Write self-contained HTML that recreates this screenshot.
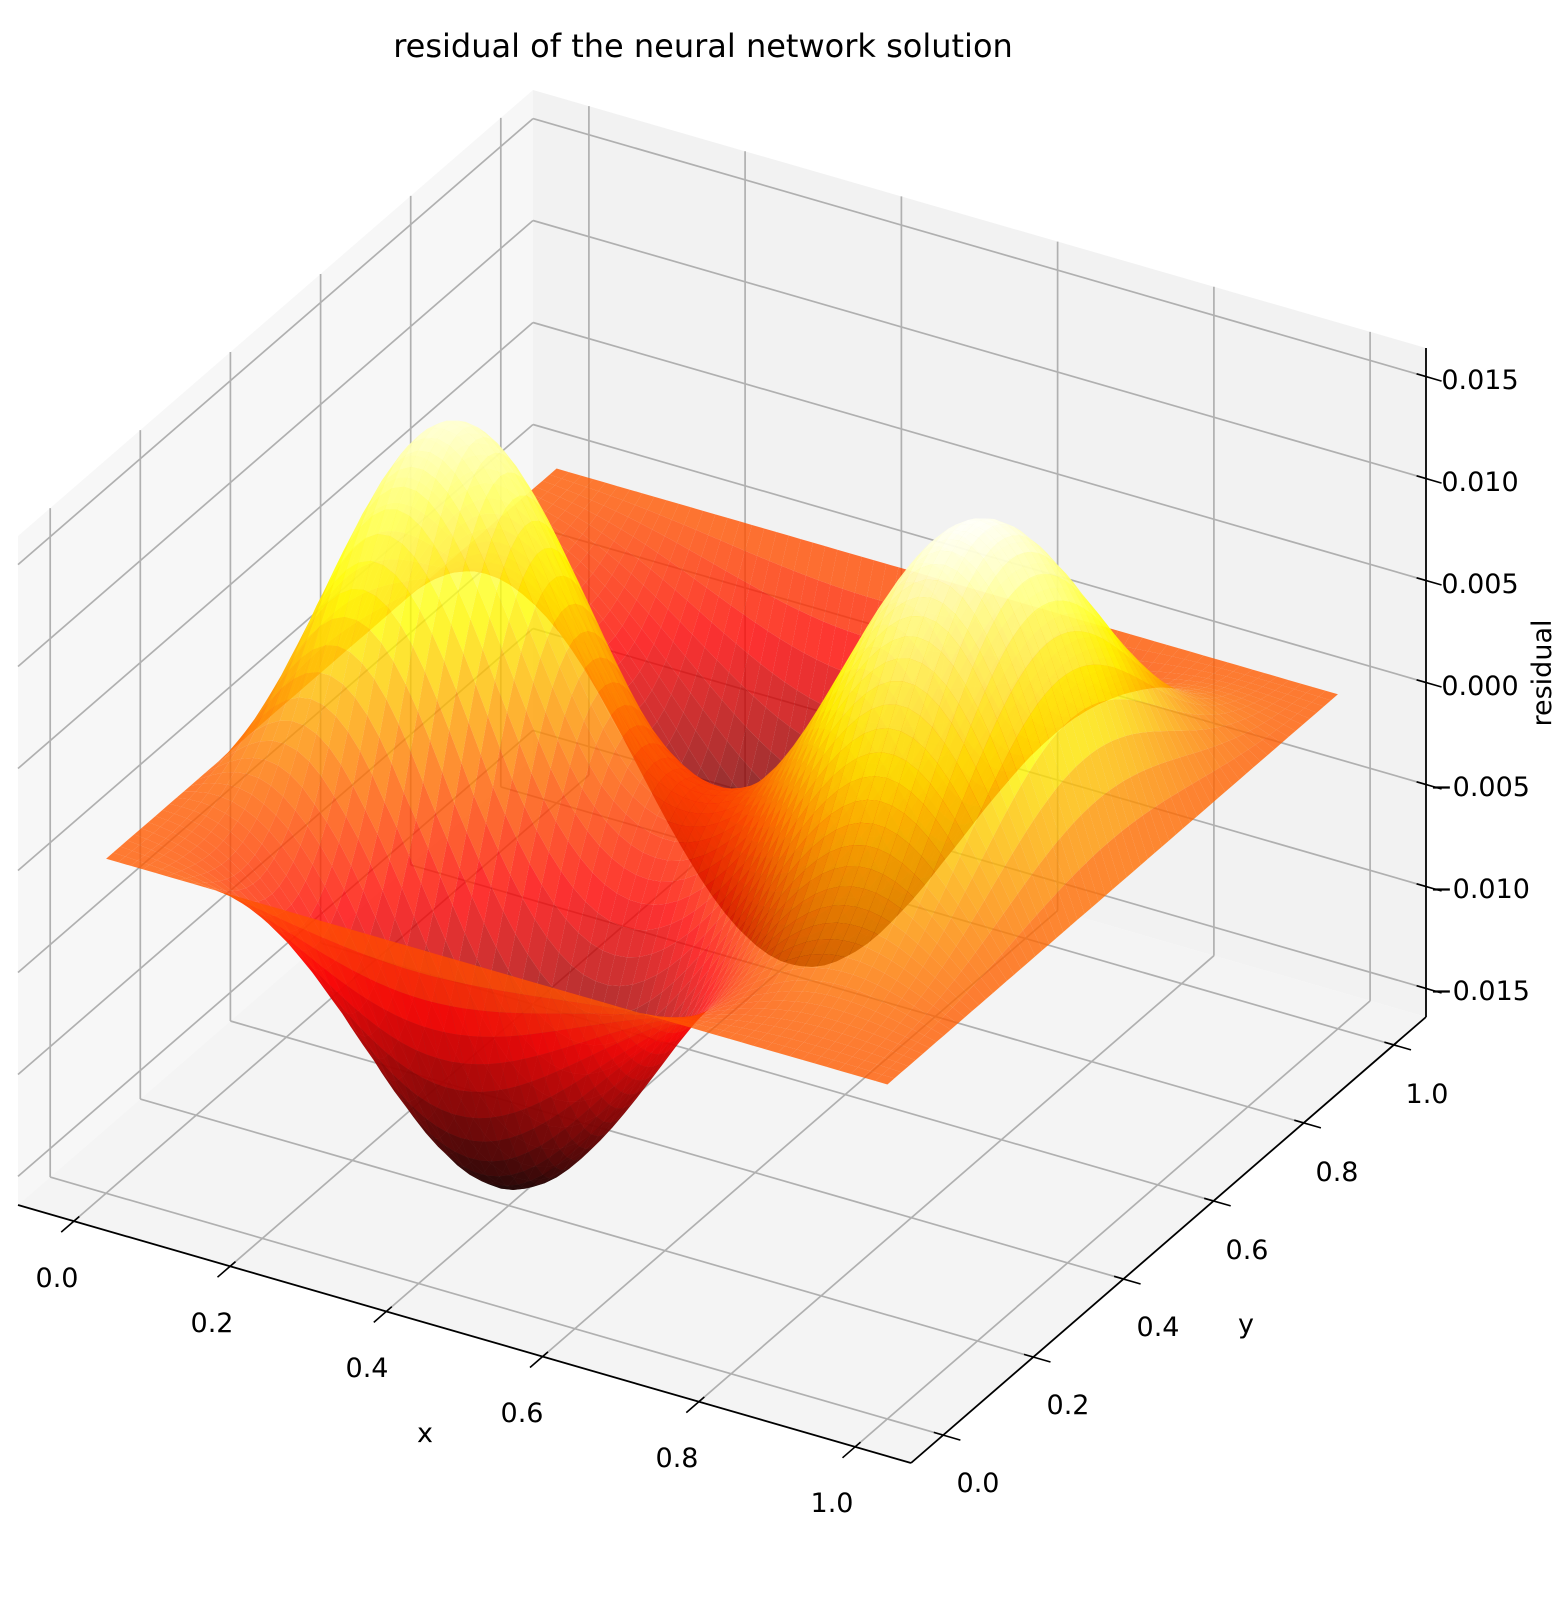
<!DOCTYPE html>
<html><head><meta charset="utf-8">
<style>
html,body{margin:0;padding:0;background:#fff;}
svg{display:block;font-family:"DejaVu Sans","Liberation Sans",sans-serif;}
</style></head>
<body>
<svg id="s" width="1563" height="1599" viewBox="0 0 1563 1599" xmlns="http://www.w3.org/2000/svg"></svg>
<script>
(function(){
var xmin=-0.0715,xmax=1.0715,ymin=-0.0715,ymax=1.0715,zmin=-0.0164,zmax=0.0164;
var F00=[18,1205],F10=[911,1463],F11=[1426,1017],F01=[533,759];
var ZH=669;
function P(x,y,z){
  var u=(x-xmin)/(xmax-xmin),v=(y-ymin)/(ymax-ymin);
  var sx=F00[0]*(1-u)*(1-v)+F10[0]*u*(1-v)+F11[0]*u*v+F01[0]*(1-u)*v;
  var sy=F00[1]*(1-u)*(1-v)+F10[1]*u*(1-v)+F11[1]*u*v+F01[1]*(1-u)*v;
  sy-=(z-zmin)/(zmax-zmin)*ZH;
  return [sx,sy];
}
function depth(x,y,z){
  var u=(x-xmin)/(xmax-xmin),v=(y-ymin)/(ymax-ymin),w=(z-zmin)/(zmax-zmin)*0.75;
  return 0.433*u-0.75*v+0.5*w;
}
var out=[];
function poly(pts,fill,extra){
  var s=pts.map(function(p){return p[0].toFixed(1)+","+p[1].toFixed(1);}).join(" ");
  out.push('<polygon points="'+s+'" fill="'+fill+'" '+(extra||'')+'/>');
}
function line(a,b,col,w){
  out.push('<line x1="'+a[0].toFixed(1)+'" y1="'+a[1].toFixed(1)+'" x2="'+b[0].toFixed(1)+'" y2="'+b[1].toFixed(1)+'" stroke="'+col+'" stroke-width="'+w+'"/>');
}
function text(x,y,t,size,anchor,extra){
  out.push('<text x="'+x+'" y="'+y+'" font-size="'+size+'" text-anchor="'+(anchor||"middle")+'" fill="#000" '+(extra||'')+'>'+t+'</text>');
}
poly([P(xmin,ymin,zmin),P(xmin,ymax,zmin),P(xmin,ymax,zmax),P(xmin,ymin,zmax)],"#f7f7f7");
poly([P(xmin,ymax,zmin),P(xmax,ymax,zmin),P(xmax,ymax,zmax),P(xmin,ymax,zmax)],"#f2f2f2");
poly([P(xmin,ymin,zmin),P(xmax,ymin,zmin),P(xmax,ymax,zmin),P(xmin,ymax,zmin)],"#f4f4f4");
var gc="#b0b0b0",gw=1.7;
var ticks=[0,0.2,0.4,0.6,0.8,1.0];
ticks.forEach(function(t){
  line(P(t,ymin,zmin),P(t,ymax,zmin),gc,gw);
  line(P(t,ymax,zmin),P(t,ymax,zmax),gc,gw);
  line(P(xmin,t,zmin),P(xmax,t,zmin),gc,gw);
  line(P(xmin,t,zmin),P(xmin,t,zmax),gc,gw);
});
var zt=[-0.015,-0.01,-0.005,0,0.005,0.01,0.015];
zt.forEach(function(z){
  line(P(xmin,ymin,z),P(xmin,ymax,z),gc,gw);
  line(P(xmin,ymax,z),P(xmax,ymax,z),gc,gw);
});
line(P(xmin,ymin,zmin),P(xmax,ymin,zmin),"#000",1.8);
line(P(xmax,ymin,zmin),P(xmax,ymax,zmin),"#000",1.8);
line(P(xmax,ymax,zmin),P(xmax,ymax,zmax),"#000",1.8);
ticks.forEach(function(t){
  line(P(t,ymin-0.028,zmin),P(t,ymin+0.012,zmin),"#000",1.6);
  line(P(xmax-0.012,t,zmin),P(xmax+0.022,t,zmin),"#000",1.6);
});
zt.forEach(function(z){
  line(P(xmax-0.012,ymax,z),P(xmax+0.02,ymax,z),"#000",1.6);
});
var G=[[0.05,0.38,0.17,0.25,1,1.15],[0.94,0.53,0.17,0.25,1,1],[0.29,0.09,0.24,0.16,-1,1.35],[0.37,0.91,0.25,0.17,-1,1.12]];
function raw(x,y,sign){
  var e=Math.sin(Math.PI*x)*Math.sin(Math.PI*y),s=0;
  G.forEach(function(g){ if(g[4]==sign){var dx=(x-g[0])/g[2],dy=(y-g[1])/g[3]; s+=g[5]*Math.exp(-0.5*(dx*dx+dy*dy));}});
  return e*s;
}
var N=64,Z=[],i,j,pmax=0,nmax=0;
for(i=0;i<=N;i++){Z[i]=[];for(j=0;j<=N;j++){var x=i/N,y=j/N;Z[i][j]=raw(x,y,1)-raw(x,y,-1);}}
for(i=0;i<=N;i++)for(j=0;j<=N;j++){pmax=Math.max(pmax,Z[i][j]);nmax=Math.max(nmax,-Z[i][j]);}
for(i=0;i<=N;i++)for(j=0;j<=N;j++){var v=Z[i][j];Z[i][j]=v>0?0.0155*v/pmax:0.0155*v/nmax;}
var fmin=1,fmax=-1;
for(i=0;i<=N;i++)for(j=0;j<=N;j++){fmin=Math.min(fmin,Z[i][j]);fmax=Math.max(fmax,Z[i][j]);}
function hot(t){
  var r=Math.min(1,0.0416+t*(1-0.0416)/0.365079),g=Math.max(0,Math.min(1,(t-0.365079)/(0.746032-0.365079))),b=Math.max(0,Math.min(1,(t-0.746032)/(1-0.746032)));
  return "rgb("+Math.round(r*255)+","+Math.round(g*255)+","+Math.round(b*255)+")";
}
var quads=[];
for(i=0;i<N;i++)for(j=0;j<N;j++){
  var x0=i/N,x1=(i+1)/N,y0=j/N,y1=(j+1)/N;
  var z00=Z[i][j],z10=Z[i+1][j],z11=Z[i+1][j+1],z01=Z[i][j+1];
  var za=(z00+z10+z11+z01)/4;
  quads.push({d:depth((x0+x1)/2,(y0+y1)/2,za),p:[P(x0,y0,z00),P(x1,y0,z10),P(x1,y1,z11),P(x0,y1,z01)],c:hot((za-fmin)/(fmax-fmin))});
}
quads.sort(function(a,b){return a.d-b.d;});
quads.forEach(function(q){poly(q.p,q.c,'fill-opacity="0.8"');});
var fs=27;
ticks.forEach(function(t,k){
  text((57+155*k).toFixed(0),(1287+45*k).toFixed(0),t.toFixed(1),fs);
  text((978+89.8*k).toFixed(0),(1492-77.8*k).toFixed(0),t.toFixed(1),fs);
});
zt.forEach(function(z){
  var y=P(xmax,ymax,z)[1];
  var s=(z<0?"\u2212":"")+Math.abs(z).toFixed(3);
  text(1480,(y+12).toFixed(0),s,fs);
});
text(425,1442,"x",fs);
text(1246,1333,"y",fs);
text(1560,673,"residual",fs,"middle",'transform="rotate(-90 1560 673) translate(0 -9)"');
text(703,57,"residual of the neural network solution",32);
document.getElementById("s").innerHTML=out.join("");
})();
</script>
</body></html>
